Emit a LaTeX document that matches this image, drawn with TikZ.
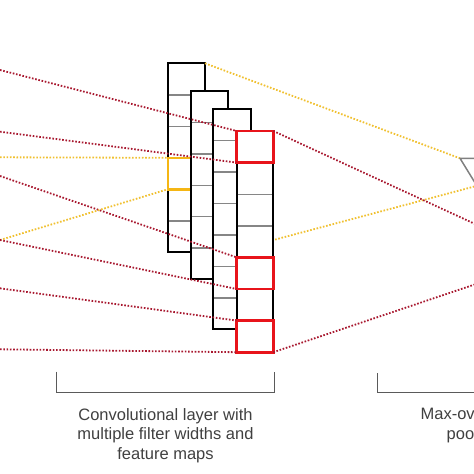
\documentclass[tikz,border=0pt]{standalone}
\usepackage{fontspec}
\setmainfont{Liberation Sans}
\usetikzlibrary{calc}
\definecolor{dotred}{HTML}{A8182F}
\definecolor{dotyel}{HTML}{F0C030}
\definecolor{boxred}{HTML}{E8141B}
\definecolor{boxyel}{HTML}{F5B614}
\definecolor{txtgray}{HTML}{404040}
\definecolor{brgray}{HTML}{5A5A5A}
\begin{document}
\begin{tikzpicture}[x=1pt,y=-1pt,
  colbox/.style={draw=black, fill=white, line width=1.8pt, inner sep=0pt, outer sep=0pt, anchor=north west},
  cellline/.style={draw=gray!95, line width=1.4pt},
  hlred/.style={draw=boxred, line width=2.8pt, inner sep=0pt, outer sep=0pt, anchor=north west, minimum width=36.6pt, minimum height=31.6pt},
  hlyel/.style={draw=boxyel, line width=2.4pt, inner sep=0pt, outer sep=0pt, anchor=north west, minimum width=37.3pt, minimum height=31.5pt},
  rdot/.style={draw=dotred, line width=1.8pt, dash pattern=on 1.6pt off 1.7pt},
  ydot/.style={draw=dotyel, line width=1.8pt, dash pattern=on 1.6pt off 1.7pt},
  bracket/.style={draw=brgray, line width=1.3pt},
  lbl/.style={text=txtgray, font=\fontsize{16.5}{19.7}\selectfont, align=center, inner sep=0pt}
]
\useasboundingbox (0,0) rectangle (474,474);
\clip (0,0) rectangle (474,474);

% left free ends
\coordinate (a1) at (0,70);
\coordinate (a2) at (0,131.7);
\coordinate (a3) at (0,157.3);
\coordinate (a4) at (0,176);
\coordinate (a5) at (0,240);
\coordinate (a6) at (0,288.3);
\coordinate (a7) at (0,349.3);
% right free ends
\coordinate (t1) at (460,158.3);
\coordinate (t2) at (500,158.3);
\coordinate (t3) at (480,190.9);
\coordinate (b1) at (480,226.3);
\coordinate (b2) at (480,185);
\coordinate (b3) at (480,282.7);
\coordinate (ys) at (240,248.9);

% lower yellow line, hidden start behind the columns
\draw[ydot] (ys) -- (b2);

% column 1
\node[colbox, minimum width=37.3pt, minimum height=189pt] (col1) at (167.7,63.3) {};
\foreach \i in {1,...,5} \draw[cellline] ($(col1.north west)+(0.9,\i*31.5)$) -- ++(35.5,0);
\node[hlyel] (yb) at ($(col1.north west)+(0,3*31.5)$) {};
% column 2
\node[colbox, minimum width=36.7pt, minimum height=188.3pt] (col2) at (191,91) {};
\foreach \i in {1,...,5} \draw[cellline] ($(col2.north west)+(0.9,\i*31.4)$) -- ++(34.9,0);
% column 3
\node[colbox, minimum width=37.4pt, minimum height=220.3pt] (col3) at (213.3,109) {};
\foreach \i in {1,...,6} \draw[cellline] ($(col3.north west)+(0.9,\i*31.47)$) -- ++(35.6,0);
% column 4
\node[colbox, minimum width=36.6pt, minimum height=221.3pt] (col4) at (236.7,131) {};
\foreach \i in {1,...,6} \draw[cellline] ($(col4.north west)+(0.9,\i*31.6)$) -- ++(34.8,0);
\node[hlred] (r1) at (col4.north west) {};
\node[hlred] (r2) at ($(col4.north west)+(0,4*31.6)$) {};
\node[hlred] (r3) at ($(col4.north west)+(0,6*31.6)$) {};

% left connectors
\draw[rdot] (a1) -- (r1.north west);
\draw[rdot] (a2) -- (r1.south west);
\draw[ydot] (a3) -- (yb.north west);
\draw[rdot] (a4) -- (r2.north west);
\draw[ydot] (a5) -- (yb.south west);
\draw[rdot] (a5) -- (r2.south west);
\draw[rdot] (a6) -- (r3.north west);
\draw[rdot] (a7) -- (r3.south west);

% right connectors
\draw[ydot] (col1.north east) -- (t1);
\draw[rdot] (r1.north east) -- (b1);
\draw[rdot] (r3.south east) -- (b3);

% pooling triangle
\draw[draw=gray, line width=1.5pt, line join=round] (t1) -- (t2) -- (t3) -- cycle;

% brackets
\coordinate (k1) at (56.7,371.7);
\coordinate (k2) at (274.3,371.7);
\coordinate (k3) at (377.7,373.3);
\coordinate (k4) at (570,373.3);
\draw[bracket] (k1) -- (k1 |- 0,392.3) -- (k2 |- 0,392.3) -- (k2);
\draw[bracket] (k3) -- (k3 |- 0,392.3) -- (k4 |- 0,392.3) -- (k4);

\node[lbl] (l1) at (165.5,435.5) {Convolutional layer with\\multiple filter widths and\\feature maps};
\node[lbl] (l2) at (473.3,425.5) {Max-over-time\\pooling};
\end{tikzpicture}
\end{document}
